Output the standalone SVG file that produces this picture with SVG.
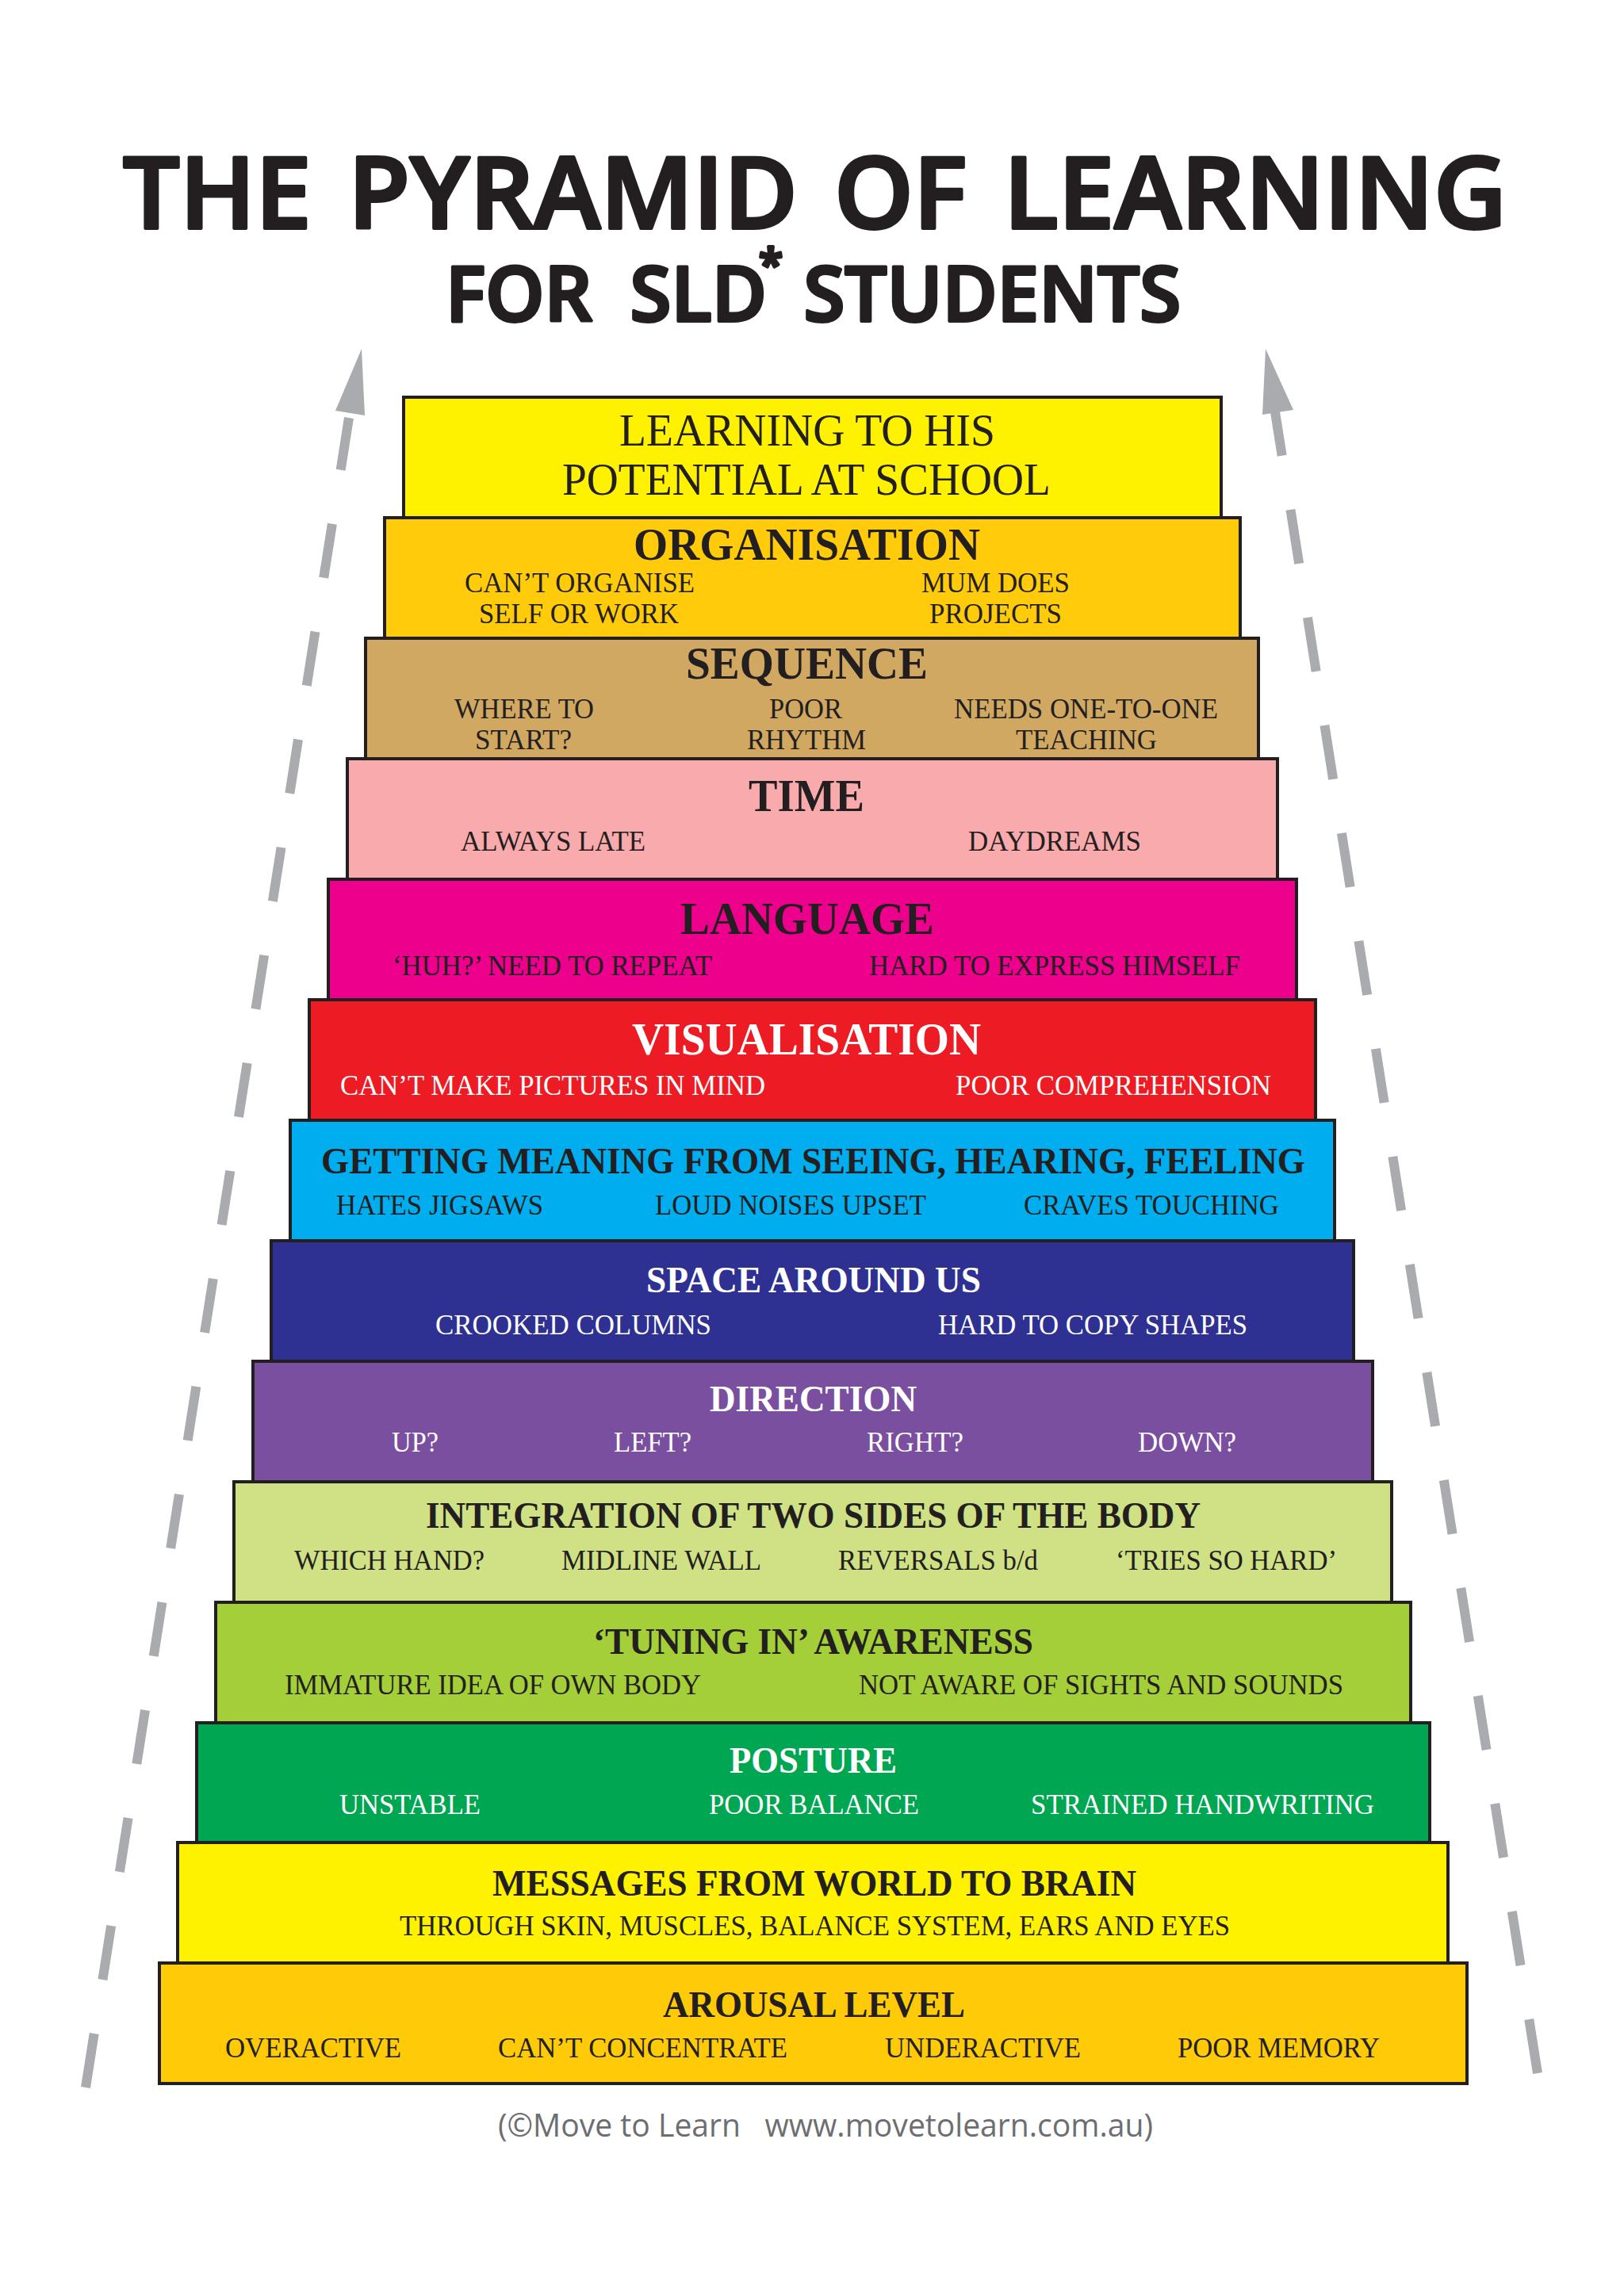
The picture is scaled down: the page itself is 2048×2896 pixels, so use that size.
<svg xmlns="http://www.w3.org/2000/svg" width="2048" height="2896" viewBox="0 0 2048 2896">
<style>
text{font-family:"Liberation Serif","Times New Roman",serif;fill:#231f20;white-space:pre}
.b{stroke:#231f20;stroke-width:4}
.h1{font-size:56px;font-weight:700}
.h2{font-size:46px;font-weight:700}
.s{font-size:35px}
.top{font-size:57px}
.w{fill:#fff}
.title{font-family:"Open Sans","Liberation Sans",sans-serif;font-weight:600;stroke:#231f20;stroke-width:4;stroke-linejoin:round}
.foot{font-family:"Open Sans","Liberation Sans",sans-serif;font-size:40px;fill:#6d6e71}
.dash{fill:none;stroke:#a9abae;stroke-width:12;stroke-dasharray:68.8 68.9}
.head{fill:#a9abae}
</style>
<rect width="2048" height="2896" fill="#fff"/>
<g id="titles">
<text class="title" x="155" y="288" font-size="125" word-spacing="13" textLength="1745" lengthAdjust="spacingAndGlyphs">THE PYRAMID OF LEARNING</text>
<text class="title" x="562" y="405" font-size="96" word-spacing="24" textLength="927" lengthAdjust="spacingAndGlyphs">FOR SLD<tspan font-size="56" dx="-10" dy="-52">*</tspan><tspan dx="-22" dy="52"> STUDENTS</tspan></text>
</g>
<g id="connectors">
<line class="dash" x1="108" y1="2633" x2="440" y2="527"/>
<polygon class="head" points="456,440 423,518 460,524"/>
<line class="dash" x1="1939" y1="2615" x2="1606" y2="507"/>
<polygon class="head" points="1596,440 1631,517 1592,523"/>
</g>
<g id="n-learning"><rect class="b" x="509" y="501" width="1031" height="152" fill="#fff200"/>
<text class="top" x="781" y="562" textLength="474" lengthAdjust="spacingAndGlyphs">LEARNING TO HIS</text>
<text class="top" x="709" y="624" textLength="616" lengthAdjust="spacingAndGlyphs">POTENTIAL AT SCHOOL</text></g>
<g id="n-organisation"><rect class="b" x="485" y="653" width="1079" height="152" fill="#ffcb0a"/>
<text class="h1" x="799" y="706" textLength="437" lengthAdjust="spacingAndGlyphs">ORGANISATION</text>
<text class="s" x="586" y="747" textLength="290" lengthAdjust="spacingAndGlyphs">CAN’T ORGANISE</text>
<text class="s" x="604" y="786" textLength="252" lengthAdjust="spacingAndGlyphs">SELF OR WORK</text>
<text class="s" x="1162" y="747" textLength="187" lengthAdjust="spacingAndGlyphs">MUM DOES</text>
<text class="s" x="1172" y="786" textLength="167" lengthAdjust="spacingAndGlyphs">PROJECTS</text></g>
<g id="n-sequence"><rect class="b" x="461" y="805" width="1126" height="152" fill="#d1a862"/>
<text class="h1" x="865" y="856" textLength="305" lengthAdjust="spacingAndGlyphs">SEQUENCE</text>
<text class="s" x="573" y="906" textLength="176" lengthAdjust="spacingAndGlyphs">WHERE TO</text>
<text class="s" x="599" y="945" textLength="122" lengthAdjust="spacingAndGlyphs">START?</text>
<text class="s" x="970" y="906" textLength="92" lengthAdjust="spacingAndGlyphs">POOR</text>
<text class="s" x="942" y="945" textLength="150" lengthAdjust="spacingAndGlyphs">RHYTHM</text>
<text class="s" x="1203" y="906" textLength="333" lengthAdjust="spacingAndGlyphs">NEEDS ONE-TO-ONE</text>
<text class="s" x="1281" y="945" textLength="178" lengthAdjust="spacingAndGlyphs">TEACHING</text></g>
<g id="n-time"><rect class="b" x="438" y="957" width="1173" height="152" fill="#f9aaac"/>
<text class="h1" x="944" y="1023" textLength="146" lengthAdjust="spacingAndGlyphs">TIME</text>
<text class="s" x="581" y="1073" textLength="233" lengthAdjust="spacingAndGlyphs">ALWAYS LATE</text>
<text class="s" x="1221" y="1073" textLength="218" lengthAdjust="spacingAndGlyphs">DAYDREAMS</text></g>
<g id="n-language"><rect class="b" x="414" y="1109" width="1221" height="152" fill="#ec008c"/>
<text class="h1" x="858" y="1178" textLength="320" lengthAdjust="spacingAndGlyphs">LANGUAGE</text>
<text class="s" x="495" y="1230" textLength="403" lengthAdjust="spacingAndGlyphs">‘HUH?’ NEED TO REPEAT</text>
<text class="s" x="1096" y="1230" textLength="468" lengthAdjust="spacingAndGlyphs">HARD TO EXPRESS HIMSELF</text></g>
<g id="n-visualisation"><rect class="b" x="390" y="1261" width="1269" height="152" fill="#ed1c24"/>
<text class="h1 w" x="797" y="1330" textLength="440" lengthAdjust="spacingAndGlyphs">VISUALISATION</text>
<text class="s w" x="429" y="1381" textLength="536" lengthAdjust="spacingAndGlyphs">CAN’T MAKE PICTURES IN MIND</text>
<text class="s w" x="1205" y="1381" textLength="398" lengthAdjust="spacingAndGlyphs">POOR COMPREHENSION</text></g>
<g id="n-meaning"><rect class="b" x="366" y="1413" width="1317" height="152" fill="#00aeef"/>
<text class="h2" x="405" y="1480" textLength="1241" lengthAdjust="spacingAndGlyphs">GETTING MEANING FROM SEEING, HEARING, FEELING</text>
<text class="s" x="424" y="1532" textLength="261" lengthAdjust="spacingAndGlyphs">HATES JIGSAWS</text>
<text class="s" x="826" y="1532" textLength="342" lengthAdjust="spacingAndGlyphs">LOUD NOISES UPSET</text>
<text class="s" x="1291" y="1532" textLength="322" lengthAdjust="spacingAndGlyphs">CRAVES TOUCHING</text></g>
<g id="n-space"><rect class="b" x="342" y="1565" width="1365" height="152" fill="#2e3192"/>
<text class="h2 w" x="815" y="1630" textLength="422" lengthAdjust="spacingAndGlyphs">SPACE AROUND US</text>
<text class="s w" x="549" y="1683" textLength="348" lengthAdjust="spacingAndGlyphs">CROOKED COLUMNS</text>
<text class="s w" x="1183" y="1683" textLength="390" lengthAdjust="spacingAndGlyphs">HARD TO COPY SHAPES</text></g>
<g id="n-direction"><rect class="b" x="319" y="1717" width="1412" height="152" fill="#7a4f9f"/>
<text class="h2 w" x="895" y="1780" textLength="261" lengthAdjust="spacingAndGlyphs">DIRECTION</text>
<text class="s w" x="494" y="1831" textLength="59" lengthAdjust="spacingAndGlyphs">UP?</text>
<text class="s w" x="774" y="1831" textLength="98" lengthAdjust="spacingAndGlyphs">LEFT?</text>
<text class="s w" x="1093" y="1831" textLength="122" lengthAdjust="spacingAndGlyphs">RIGHT?</text>
<text class="s w" x="1435" y="1831" textLength="124" lengthAdjust="spacingAndGlyphs">DOWN?</text></g>
<g id="n-integration"><rect class="b" x="295" y="1869" width="1460" height="152" fill="#d0e084"/>
<text class="h2" x="537" y="1927" textLength="977" lengthAdjust="spacingAndGlyphs">INTEGRATION OF TWO SIDES OF THE BODY</text>
<text class="s" x="371" y="1980" textLength="240" lengthAdjust="spacingAndGlyphs">WHICH HAND?</text>
<text class="s" x="708" y="1980" textLength="252" lengthAdjust="spacingAndGlyphs">MIDLINE WALL</text>
<text class="s" x="1057" y="1980" textLength="252" lengthAdjust="spacingAndGlyphs">REVERSALS b/d</text>
<text class="s" x="1407" y="1980" textLength="279" lengthAdjust="spacingAndGlyphs">‘TRIES SO HARD’</text></g>
<g id="n-tuning"><rect class="b" x="272" y="2021" width="1507" height="152" fill="#a4cf39"/>
<text class="h2" x="748" y="2086" textLength="555" lengthAdjust="spacingAndGlyphs">‘TUNING IN’ AWARENESS</text>
<text class="s" x="359" y="2137" textLength="525" lengthAdjust="spacingAndGlyphs">IMMATURE IDEA OF OWN BODY</text>
<text class="s" x="1083" y="2137" textLength="611" lengthAdjust="spacingAndGlyphs">NOT AWARE OF SIGHTS AND SOUNDS</text></g>
<g id="n-posture"><rect class="b" x="248" y="2173" width="1555" height="151" fill="#00a651"/>
<text class="h2 w" x="920" y="2236" textLength="211" lengthAdjust="spacingAndGlyphs">POSTURE</text>
<text class="s w" x="428" y="2288" textLength="178" lengthAdjust="spacingAndGlyphs">UNSTABLE</text>
<text class="s w" x="894" y="2288" textLength="265" lengthAdjust="spacingAndGlyphs">POOR BALANCE</text>
<text class="s w" x="1300" y="2288" textLength="433" lengthAdjust="spacingAndGlyphs">STRAINED HANDWRITING</text></g>
<g id="n-messages"><rect class="b" x="224" y="2324" width="1602" height="152" fill="#fff200"/>
<text class="h2" x="621" y="2391" textLength="812" lengthAdjust="spacingAndGlyphs">MESSAGES FROM WORLD TO BRAIN</text>
<text class="s" x="504" y="2441" textLength="1047" lengthAdjust="spacingAndGlyphs">THROUGH SKIN, MUSCLES, BALANCE SYSTEM, EARS AND EYES</text></g>
<g id="n-arousal"><rect class="b" x="201" y="2476" width="1649" height="152" fill="#ffcb08"/>
<text class="h2" x="836" y="2544" textLength="381" lengthAdjust="spacingAndGlyphs">AROUSAL LEVEL</text>
<text class="s" x="284" y="2595" textLength="222" lengthAdjust="spacingAndGlyphs">OVERACTIVE</text>
<text class="s" x="628" y="2595" textLength="365" lengthAdjust="spacingAndGlyphs">CAN’T CONCENTRATE</text>
<text class="s" x="1116" y="2595" textLength="247" lengthAdjust="spacingAndGlyphs">UNDERACTIVE</text>
<text class="s" x="1485" y="2595" textLength="255" lengthAdjust="spacingAndGlyphs">POOR MEMORY</text></g>
<text class="foot" x="628" y="2695" textLength="826" lengthAdjust="spacingAndGlyphs">(©Move to Learn   www.movetolearn.com.au)</text>
</svg>
